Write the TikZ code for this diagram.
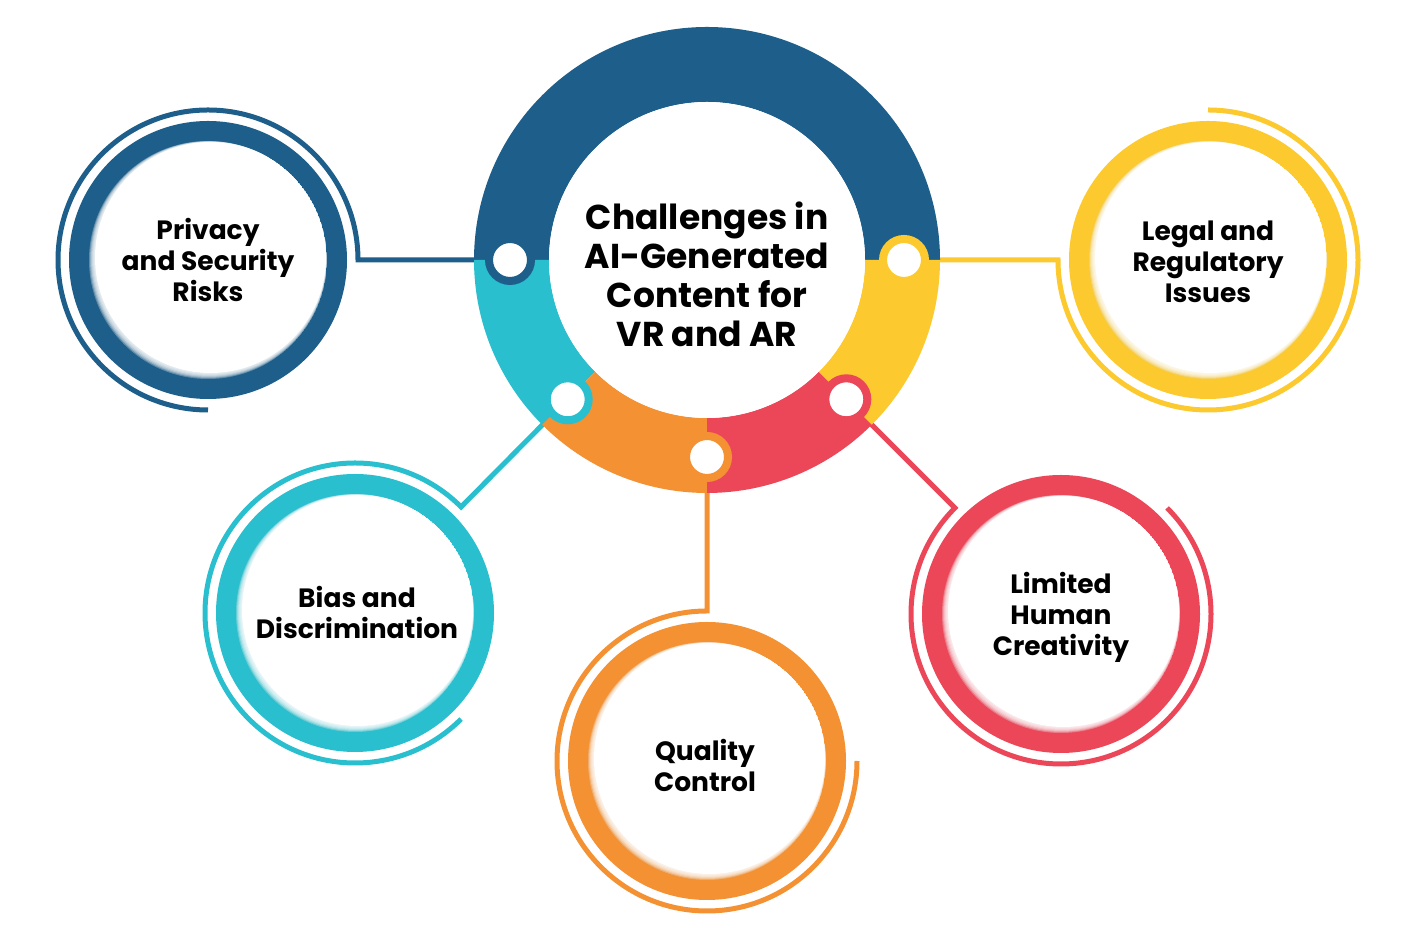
\documentclass[tikz,border=0pt]{standalone}
\usepackage{fontspec}
\setmainfont{Poppins}
\usetikzlibrary{calc}
\definecolor{cblue}{HTML}{1D5F8A}
\definecolor{ccyan}{HTML}{2ABFCE}
\definecolor{corange}{HTML}{F49133}
\definecolor{cred}{HTML}{EC4759}
\definecolor{cyellow}{HTML}{FCC92E}
\pgfdeclarelayer{back}
\pgfdeclarelayer{mid}
\pgfsetlayers{back,mid,main}
\newcommand\satring[2]{%
  \fill[#2] (#1) circle[radius=139];
  \begin{scope}
    \clip (#1) circle[radius=119];
    \fill[#2!95!black] (#1) circle[radius=119];
    \foreach \j in {0,...,5}{
      \fill[white, opacity=0.3] ($(#1)+({2.5*\j/6},{2.5*\j/6})$) circle[radius={119-3.5*\j/6}];
    }
    \fill[white] ($(#1)+(2.5,2.5)$) circle[radius=115.5];
  \end{scope}
}
\begin{document}
\begin{tikzpicture}[x=1pt,y=1pt,
  thinline/.style={line width=5pt},
  satlabel/.style={font=\bfseries\fontsize{26.5}{31}\selectfont, align=center, text=black, inner sep=0pt},
  titlelabel/.style={font=\bfseries\fontsize{34.5}{39}\selectfont, align=center, text=black, inner sep=0pt},
  dot/.style={circle, fill=white, line width=8pt, minimum size=42pt, inner sep=0pt},
  sat/.style={circle, minimum size=278pt, inner sep=0pt}]
\useasboundingbox (0,0) rectangle (1409,939);

\coordinate (c0) at (707,679);

% satellites
\node[sat] (P) at (208,679) {};
\node[sat] (L) at (1208,679) {};
\node[sat] (B) at (355,326) {};
\node[sat] (Q) at (707,178) {};
\node[sat] (H) at (1061,325) {};

\node[satlabel] (Pt) at (P.center) {Privacy\\and Security\\Risks};
\node[satlabel] (Lt) at ($(L.center)+(0,-2)$) {Legal and\\Regulatory\\Issues};
\node[satlabel] (Bt) at ($(B.center)+(2,0)$) {Bias and\\Discrimination};
\node[satlabel] (Qt) at ($(Q.center)+(-2,-4)$) {Quality\\Control};
\node[satlabel] (Ht) at ($(H.center)+(0,-3)$) {Limited\\Human\\Creativity};

\node[titlelabel] (T) at (707,665) {Challenges in\\AI-Generated\\Content for\\VR and AR};

% dots
\node[dot, draw=cblue] (d180) at ($(c0)+(180:197)$) {};
\node[dot, draw=ccyan] (d225) at ($(c0)+(225:197)$) {};
\node[dot, draw=corange] (d270) at ($(c0)+(270:197)$) {};
\node[dot, draw=cred] (d315) at ($(c0)+(315:197)$) {};
\node[dot, draw=cyellow] (d0) at ($(c0)+(0:197)$) {};

% arc end points
\coordinate (Pe) at ($(P.center)+(0:150)$);
\coordinate (Le) at ($(L.center)+(180:150)$);
\coordinate (Be) at ($(B.center)+(45:150)$);
\coordinate (Qe) at ($(Q.center)+(90:150)$);
\coordinate (He) at ($(H.center)+(135:150)$);

\begin{pgfonlayer}{back}
  \fill[white] (0,0) rectangle (1409,939);
  \draw[thinline, cblue] (d180.center) -- (Pe) arc[start angle=0, end angle=270, radius=150];
  \draw[thinline, cyellow] (d0.center) -- (Le) arc[start angle=180, end angle=450, radius=150];
  \draw[thinline, ccyan] (d225.center) -- (Be) arc[start angle=45, end angle=315, radius=150];
  \draw[thinline, corange] (d270.center) -- (Qe) arc[start angle=90, end angle=360, radius=150];
  \draw[thinline, cred] (d315.center) -- (He) arc[start angle=135, end angle=405, radius=150];
\end{pgfonlayer}

\begin{pgfonlayer}{mid}
  \fill[cblue] ($(c0)+(0:233)$) arc[start angle=0, end angle=180, radius=233]
     -- ($(c0)+(180:158)$) arc[start angle=180, end angle=0, radius=158] -- cycle;
  \fill[ccyan] ($(c0)+(180:233)$) arc[start angle=180, end angle=225, radius=233]
     -- ($(c0)+(225:158)$) arc[start angle=225, end angle=180, radius=158] -- cycle;
  \fill[corange] ($(c0)+(225:233)$) arc[start angle=225, end angle=270, radius=233]
     -- ($(c0)+(270:158)$) arc[start angle=270, end angle=225, radius=158] -- cycle;
  \fill[cred] ($(c0)+(270:233)$) arc[start angle=270, end angle=315, radius=233]
     -- ($(c0)+(315:158)$) arc[start angle=315, end angle=270, radius=158] -- cycle;
  \fill[cyellow] ($(c0)+(315:233)$) arc[start angle=315, end angle=360, radius=233]
     -- ($(c0)+(360:158)$) arc[start angle=360, end angle=315, radius=158] -- cycle;
  \fill[white] (c0) circle[radius=158];
  \satring{P.center}{cblue}
  \satring{L.center}{cyellow}
  \satring{B.center}{ccyan}
  \satring{Q.center}{corange}
  \satring{H.center}{cred}
\end{pgfonlayer}
\end{tikzpicture}
\end{document}
